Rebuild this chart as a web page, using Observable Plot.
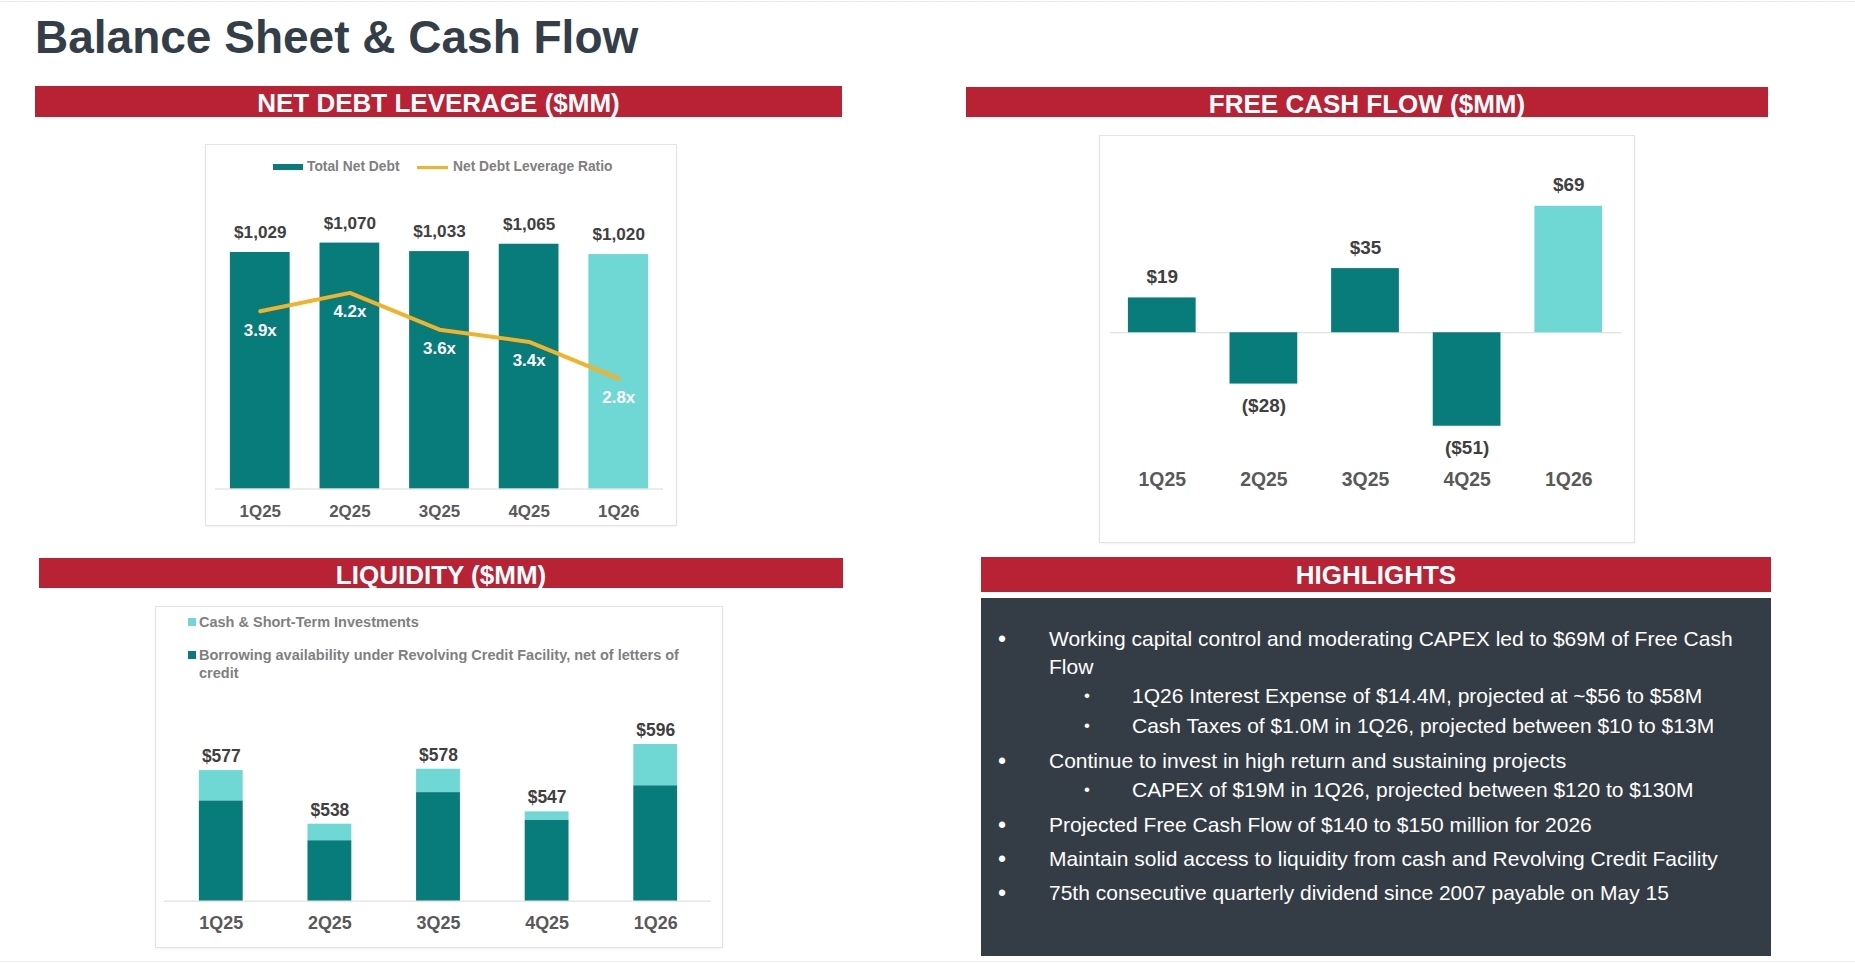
<!DOCTYPE html>
<html>
<head>
<meta charset="utf-8">
<script src="https://cdn.jsdelivr.net/npm/d3@7"></script>
<script src="https://cdn.jsdelivr.net/npm/@observablehq/plot@0.6"></script>
<style>
  html, body { margin: 0; padding: 0; background: #fff; }
  body { width: 1855px; height: 964px; position: relative; overflow: hidden;
         font-family: "Liberation Sans", Arial, Helvetica, sans-serif; }
  .abs { position: absolute; }
  .title { left: 35px; top: 14px; font-size: 46px; line-height: 46px; font-weight: bold; color: #343e48; white-space: nowrap; }
  .hdr { background: #b92234; color: #fff; font-weight: bold; font-size: 26px; line-height: 35px; text-align: center; white-space: nowrap; overflow: visible; }
  .box { border: 1px solid #e3e3e3; box-sizing: border-box; background: #fff; box-shadow: 0 1px 2px rgba(0,0,0,0.06); }
  .box svg { position: absolute; left: -1px; top: -1px; overflow: visible; }
  .leg { font-size: 13.8px; font-weight: bold; color: #7f7f7f; white-space: nowrap; line-height: 16px; }
  .leg2 { font-size: 14.5px; font-weight: bold; color: #7f7f7f; white-space: nowrap; line-height: 18px; }
  .hl { background: #343d46; box-sizing: border-box; padding-top: 26.8px; color: #fff; }
  .item { position: relative; font-size: 21px; line-height: 28px; white-space: normal; }
  .item.l0 { padding-left: 68px; width: 700px; margin-top: 6.4px; }
  .item.l1 { padding-left: 151px; width: 617px; margin-top: 1.7px; }
  .item.first { margin-top: 0; }
  .bul { position: absolute; top: 0; }
  .l0 .bul { left: 17px; font-size: 23px; }
  .l1 .bul { left: 103px; font-size: 17px; }
  .edge { left: 0; width: 1855px; height: 1px; background: #eeeaea; }
</style>
</head>
<body>
<script>
// ---------------- DATA ----------------
const quarters   = ["1Q25", "2Q25", "3Q25", "4Q25", "1Q26"];
const netDebt    = [1029, 1070, 1033, 1065, 1020];      // Total Net Debt ($MM)
const leverage   = [3.9, 4.2, 3.6, 3.4, 2.8];           // Net Debt Leverage Ratio (x)
const freeCash   = [19, -28, 35, -51, 69];              // Free Cash Flow ($MM)
const cashSTI    = [22, 12, 17, 6, 30];                 // Cash & Short-Term Investments
const borrowing  = [555, 526, 561, 541, 566];           // Borrowing availability under RCF
const liqTotals  = [577, 538, 578, 547, 596];           // Liquidity totals ($MM)
const currentQ   = "1Q26";

const pageTitle  = "Balance Sheet & Cash Flow";
const headers    = ["NET DEBT LEVERAGE ($MM)", "FREE CASH FLOW ($MM)", "LIQUIDITY ($MM)", "HIGHLIGHTS"];
const ndLegend   = ["Total Net Debt", "Net Debt Leverage Ratio"];
const liqSeries  = ["Borrowing availability under Revolving Credit Facility, net of letters of", "Cash & Short-Term Investments"];
const liqSeriesExtra = "credit";
const highlights = [
  [0, "Working capital control and moderating CAPEX led to $69M of Free Cash Flow"],
  [1, "1Q26 Interest Expense of $14.4M, projected at ~$56 to $58M"],
  [1, "Cash Taxes of $1.0M in 1Q26, projected between $10 to $13M"],
  [0, "Continue to invest in high return and sustaining projects"],
  [1, "CAPEX of $19M in 1Q26, projected between $120 to $130M"],
  [0, "Projected Free Cash Flow of $140 to $150 million for 2026"],
  [0, "Maintain solid access to liquidity from cash and Revolving Credit Facility"],
  [0, "75th consecutive quarterly dividend since 2007 payable on May 15"]
];

// ---------------- STYLE ----------------
const DARK = "#087b7b", LIGHT = "#6fd7d4", GOLD = "#f2b229";
const VAL = "#404040", AXT = "#595959", RULE = "#d9d9d9";
const FONT = '"Liberation Sans", Arial, Helvetica, sans-serif';
const fmtDollar = v => v >= 0 ? "$" + d3.format(",")(v) : "($" + d3.format(",")(-v) + ")";

function el(cls, css, html) {
  const d = document.createElement("div");
  d.className = cls;
  Object.assign(d.style, css);
  if (html != null) d.innerHTML = html;
  document.body.appendChild(d);
  return d;
}

el("abs edge", {top: "1px"});
el("abs edge", {top: "961px", background: "#f0f0f0"});
el("abs title", {}, pageTitle);

// headers
el("abs hdr", {left: "35px", top: "86px", width: "807px", height: "31px"}, headers[0]);
el("abs hdr", {left: "966px", top: "87px", width: "802px", height: "30px"}, headers[1]);
el("abs hdr", {left: "39px", top: "558px", width: "804px", height: "30px"}, headers[2]);
el("abs hdr", {left: "981px", top: "557px", width: "790px", height: "35px", lineHeight: "37px"}, headers[3]);

// ---------------- NET DEBT LEVERAGE ----------------
{
  const box = el("abs box", {left: "205px", top: "144px", width: "472px", height: "382px"});
  const data = quarters.map((q, i) => ({q, debt: netDebt[i], ratio: leverage[i]}));
  // secondary (ratio) axis mapped onto the primary debt axis
  const y2 = d3.scaleLinear().domain([1.0, 5.5]).range([0, 1200]);
  const chart = Plot.plot({
    width: 472, height: 382,
    marginLeft: 10, marginRight: 12, marginTop: 69, marginBottom: 36,
    x: {domain: quarters, paddingInner: 1/3, paddingOuter: 1/6, axis: null},
    y: {domain: [0, 1200], axis: null},
    color: {domain: quarters, range: quarters.map(q => q === currentQ ? LIGHT : DARK)},
    style: {fontFamily: FONT, background: "transparent", overflow: "visible"},
    marks: [
      Plot.barY(data, {x: "q", y: "debt", fill: "q"}),
      Plot.ruleY([0], {stroke: RULE, strokeWidth: 1}),
      Plot.text(data, {x: "q", y: "debt", text: d => fmtDollar(d.debt), dy: -20, fontSize: 17.2, fontWeight: "bold", fill: VAL}),
      Plot.line(data, {x: "q", y: d => y2(d.ratio), stroke: GOLD, strokeWidth: 4, strokeLinejoin: "round"}),
      Plot.text(data, {x: "q", y: d => y2(d.ratio), text: d => d.ratio.toFixed(1) + "x", dy: 19, fontSize: 17, fontWeight: "bold", fill: "#ffffff"}),
      Plot.text(quarters, {x: d => d, frameAnchor: "bottom", lineAnchor: "middle", dy: 23, fontSize: 17, fontWeight: "bold", fill: AXT})
    ]
  });
  box.appendChild(chart);
  // legend
  el("abs", {left: "273px", top: "164px", width: "30px", height: "6px", background: DARK});
  el("abs leg", {left: "307px", top: "159px"}, ndLegend[0]);
  el("abs", {left: "417px", top: "166px", width: "31px", height: "3px", background: GOLD});
  el("abs leg", {left: "453px", top: "159px"}, ndLegend[1]);
}

// ---------------- FREE CASH FLOW ----------------
{
  const box = el("abs box", {left: "1099px", top: "135px", width: "536px", height: "408px"});
  const data = quarters.map((q, i) => ({q, v: freeCash[i]}));
  const chart = Plot.plot({
    width: 536, height: 408,
    marginLeft: 11, marginRight: 12, marginTop: 14, marginBottom: 81.2,
    x: {domain: quarters, paddingInner: 1/3, paddingOuter: 1/6, axis: null},
    y: {domain: [-70, 100], axis: null},
    color: {domain: quarters, range: quarters.map(q => q === currentQ ? LIGHT : DARK)},
    style: {fontFamily: FONT, background: "transparent", overflow: "visible"},
    marks: [
      Plot.ruleY([0], {stroke: RULE, strokeWidth: 1}),
      Plot.barY(data, {x: "q", y: "v", fill: "q"}),
      Plot.text(data.filter(d => d.v >= 0), {x: "q", y: "v", text: d => fmtDollar(d.v), dy: -21, fontSize: 19, fontWeight: "bold", fill: VAL}),
      Plot.text(data.filter(d => d.v < 0), {x: "q", y: "v", text: d => fmtDollar(d.v), dy: 22, fontSize: 19, fontWeight: "bold", fill: VAL}),
      Plot.text(quarters, {x: d => d, frameAnchor: "bottom", lineAnchor: "middle", dy: 18.4, fontSize: 19.5, fontWeight: "bold", fill: AXT})
    ]
  });
  box.appendChild(chart);
}

// ---------------- LIQUIDITY ----------------
{
  const box = el("abs box", {left: "155px", top: "606px", width: "568px", height: "342px"});
  const liqMin = 482;
  const long = [];
  quarters.forEach((q, i) => {
    long.push({q, series: "Borrowing", value: borrowing[i]});
    long.push({q, series: "Cash", value: cashSTI[i]});
  });
  const totals = quarters.map((q, i) => ({q, total: liqTotals[i]}));
  const chart = Plot.plot({
    width: 568, height: 342,
    marginLeft: 9, marginRight: 10, marginTop: 105.4, marginBottom: 46.3,
    x: {domain: quarters, paddingInner: 0.6, paddingOuter: 0.3, axis: null},
    y: {domain: [liqMin, 620], axis: null},
    color: {domain: ["Borrowing", "Cash"], range: [DARK, LIGHT]},
    style: {fontFamily: FONT, background: "transparent", overflow: "visible"},
    marks: [
      Plot.barY(long, {x: "q", y: "value", fill: "series", clip: true}),
      Plot.ruleY([liqMin], {stroke: RULE, strokeWidth: 1}),
      Plot.text(totals, {x: "q", y: "total", text: d => fmtDollar(d.total), dy: -14, fontSize: 17.5, fontWeight: "bold", fill: VAL}),
      Plot.text(quarters, {x: d => d, frameAnchor: "bottom", lineAnchor: "middle", dy: 22, fontSize: 18, fontWeight: "bold", fill: AXT})
    ]
  });
  box.appendChild(chart);
  // legend
  el("abs", {left: "188px", top: "618px", width: "8px", height: "8px", background: LIGHT});
  el("abs leg2", {left: "199px", top: "613px"}, liqSeries[1]);
  el("abs", {left: "188px", top: "651px", width: "8px", height: "8px", background: DARK});
  el("abs leg2", {left: "199px", top: "646px"}, liqSeries[0] + "<br>" + liqSeriesExtra);
}

// ---------------- HIGHLIGHTS ----------------
{
  const hl = el("abs hl", {left: "981px", top: "598px", width: "790px", height: "358px"});
  highlights.forEach(([lvl, txt], i) => {
    const it = document.createElement("div");
    it.className = "item l" + lvl + (i === 0 ? " first" : "");
    const b = document.createElement("span");
    b.className = "bul";
    b.textContent = "•";
    it.appendChild(b);
    it.appendChild(document.createTextNode(txt));
    hl.appendChild(it);
  });
}
</script>
</body>
</html>
